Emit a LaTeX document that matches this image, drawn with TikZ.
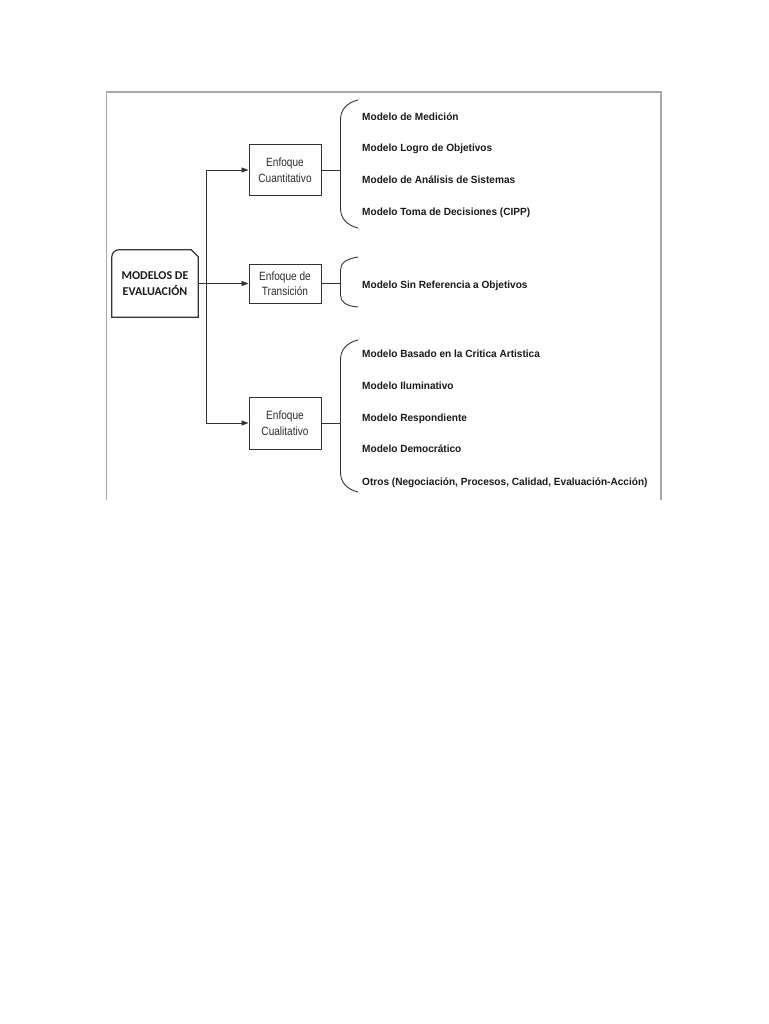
\documentclass[tikz,border=0pt]{standalone}
\usepackage{fontspec}
\setmainfont{Liberation Sans}
\newfontfamily\itemfont[FakeStretch=0.97]{Liberation Sans}
\newfontfamily\boxfont[FakeStretch=0.84]{Liberation Sans}
\newfontfamily\mainfont{Carlito}
\usetikzlibrary{arrows.meta}
\definecolor{framegray}{HTML}{A8A8A8}
\definecolor{linegray}{HTML}{333333}
\definecolor{txt}{HTML}{1A1A1A}
\begin{document}
\begin{tikzpicture}[x=1pt,y=-1pt,
  enf/.style={draw=linegray,line width=1pt,minimum width=72pt,align=center,
    font=\boxfont\fontsize{12}{15.5}\selectfont,text=txt!92!white,inner sep=0pt},
  itm/.style={anchor=base west,font=\itemfont\bfseries\fontsize{10.4}{12}\selectfont,text=txt,inner sep=0pt},
  conn/.style={draw=linegray,line width=0.9pt},
  arr/.style={conn,-{Triangle[length=7pt,width=5pt]}},
  brc/.style={draw=linegray,line width=0.9pt}]
\useasboundingbox (0,0) rectangle (768,1024);
\fill[white] (0,0) rectangle (768,1024);
% frame
\draw[framegray,line width=1.1pt] (106.5,500) -- (106.5,92) -- (661,92) -- (661,500);
% main node
\node[minimum width=86pt,minimum height=67pt,inner sep=0pt,align=center,
  font=\mainfont\bfseries\fontsize{12}{16}\selectfont,text=txt] (main) at (155,283.5)
  {MODELOS DE\\EVALUACIÓN};
\draw[linegray,line width=1.2pt] (main.south west) -- ([yshift=-7pt]main.north west)
  arc[start angle=180,end angle=90,radius=7pt] -- ([xshift=-7pt]main.north east)
  -- ([yshift=-7pt]main.north east) -- (main.south east) -- cycle;
% boxes
\node[enf,minimum height=51pt] (cuant) at (285,170) {Enfoque\\Cuantitativo};
\node[enf,minimum height=39pt] (trans) at (285,283.5) {Enfoque de\\Transición};
\node[enf,minimum height=52pt] (cual) at (285,423) {Enfoque\\Cualitativo};
% connectors
\coordinate (jn) at (206,283.5);
\draw[arr] (main.east) -- (trans.west);
\draw[arr] (jn) |- (cuant.west);
\draw[arr] (jn) |- (cual.west);
% braces
\coordinate (b1) at (340.5,170);
\coordinate (b2) at (340.5,283.5);
\coordinate (b3) at (340.5,423);
\draw[conn] (cuant.east) -- (b1);
\draw[conn] (trans.east) -- (b2);
\draw[conn] (cual.east) -- (b3);
\draw[brc] (358,100) .. controls (346,103) and (340.5,110) .. (340.5,120) -- (340.5,208)
  .. controls (340.5,218) and (346,225) .. (358,228);
\draw[brc] (358,257) .. controls (346,259) and (340.5,263) .. (340.5,270) -- (340.5,295)
  .. controls (340.5,302) and (346,306) .. (358,307);
\draw[brc] (358,340) .. controls (346,343) and (340.5,350) .. (340.5,360) -- (340.5,472)
  .. controls (340.5,482) and (346,489) .. (358,492);
% items
\node[itm] (i1) at (362,121) {Modelo de Medición};
\node[itm] (i2) at (362,152) {Modelo Logro de Objetivos};
\node[itm] (i3) at (362,184) {Modelo de Análisis de Sistemas};
\node[itm] (i4) at (362,216) {Modelo Toma de Decisiones (CIPP)};
\node[itm] (i5) at (362,288) {Modelo Sin Referencia a Objetivos};
\node[itm] (i6) at (362,357) {Modelo Basado en la Critica Artistica};
\node[itm] (i7) at (362,389) {Modelo Iluminativo};
\node[itm] (i8) at (362,421) {Modelo Respondiente};
\node[itm] (i9) at (362,452) {Modelo Democrático};
\node[itm] (i10) at (362,485) {Otros (Negociación, Procesos, Calidad, Evaluación-Acción)};
\end{tikzpicture}
\end{document}
